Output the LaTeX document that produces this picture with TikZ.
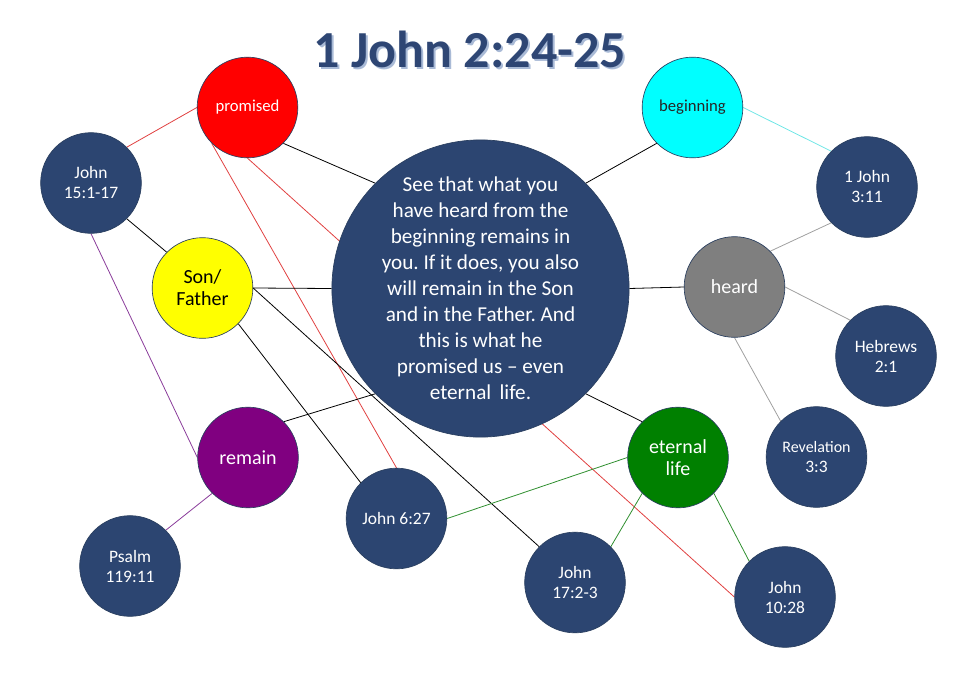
\documentclass[tikz,border=0pt]{standalone}
\usepackage{fontspec}
\setmainfont{Carlito}
\frenchspacing
\definecolor{navy}{HTML}{2C4571}
\definecolor{bord}{HTML}{2A3F5F}
\definecolor{titlec}{HTML}{2E4674}
\definecolor{titleshadow}{HTML}{A9BAD6}
\definecolor{kred}{HTML}{FF0000}
\definecolor{kcyan}{HTML}{00FFFF}
\definecolor{kyellow}{HTML}{FFFF00}
\definecolor{kgray}{HTML}{7F7F7F}
\definecolor{kpurple}{HTML}{800080}
\definecolor{kgreen}{HTML}{008000}
\definecolor{redline}{HTML}{E04040}
\definecolor{cyanline}{HTML}{70E6E6}
\definecolor{grayline}{HTML}{A0A0A0}
\definecolor{purpline}{HTML}{8A3C9A}
\definecolor{greenline}{HTML}{2F8F2F}
\pgfdeclarelayer{bg}
\pgfsetlayers{bg,main}
\begin{document}
\begin{tikzpicture}[x=0.75pt,y=-0.75pt,
  bub/.style={circle, draw=bord, line width=0.5pt, minimum size=75.5pt, inner sep=0pt,
    align=center, fill=navy, text=white, font=\fontsize{13.1}{15}\selectfont},
  keyw/.style={bub, font=\fontsize{12.5}{15}\selectfont},
  bigw/.style={bub, font=\fontsize{15}{16.5}\selectfont},
  link/.style={line width=0.6pt},
]
\useasboundingbox (0,0) rectangle (960,675);
% title
\node[text=titleshadow, font=\fontsize{39}{39}\selectfont\bfseries] (titlesh) at (471.5,51.5) {1 John 2:24-25};
\node[text=titlec, font=\fontsize{39}{39}\selectfont\bfseries] (title) at (469.5,49.5) {1 John 2:24-25};
% centre
\node[circle, draw=bord, line width=0.5pt, fill=navy, text=white, minimum size=218.5pt, inner sep=0pt,
  align=center, font=\fontsize{15.9}{19.5}\selectfont] (c) at (480.5,288.5)
  {See that what you\\ have heard from the\\ beginning remains in\\ you. If it does, you also\\ will remain in the Son\\ and in the Father. And\\ this is what he\\ promised us -- even\\ eternal\ \,life.};
% keyword bubbles
\node[keyw, fill=kred] (prom) at (247.5,107.5) {promised};
\node[keyw, fill=kcyan, text=black!85] (beg) at (692.5,107.5) {beginning};
\node[bigw, fill=kyellow, text=black] (son) at (202.5,288) {Son/\\Father};
\node[bigw, fill=kgray] (heard) at (734.5,287) {heard};
\node[bigw, fill=kpurple] (rem) at (248,457.5) {remain};
\node[bigw, fill=kgreen] (eter) at (678,457.5) {eternal\\life};
% references
\node[bub] (j15) at (91,183) {John\\15:1-17};
\node[bub] (j311) at (867,187) {1 John\\3:11};
\node[bub] (heb) at (886,356) {Hebrews\\2:1};
\node[bub] (rev) at (816.5,457) {\fontsize{12}{15}\selectfont Revelation\\3:3};
\node[bub] (j627) at (396.5,518.5) {John 6:27};
\node[bub] (ps) at (130,566) {Psalm\\119:11};
\node[bub] (j17) at (575,582.5) {John\\17:2-3};
\node[bub] (j1028) at (785,597) {John\\10:28};
% connectors
\begin{pgfonlayer}{bg}
\draw[link] (prom.south east) -- (c.north west);
\draw[link, redline] (prom.west) -- (j15.north east);
\draw[link, redline] (prom.south west) -- (j627.north);
\draw[link, redline] (prom.south) -- (j1028.west);
\draw[link] (beg.south west) -- (c.north east);
\draw[link, cyanline] (beg.east) -- (j311.north west);
\draw[link] (heard.west) -- (c.east);
\draw[link, grayline] (heard.north east) -- (j311.south west);
\draw[link, grayline] (heard.east) -- (heb.north west);
\draw[link, grayline] (heard.south) -- (rev.north west);
\draw[link] (son.east) -- (c.west);
\draw[link] (j15.south east) -- (son.north west);
\draw[link] (son.south east) -- (j627.north west);
\draw[link] (son.east) -- (j17.north west);
\draw[link] (rem.north east) -- (c.south west);
\draw[link, purpline] (j15.south) -- (rem.west);
\draw[link, purpline] (rem.south west) -- (ps.north east);
\draw[link] (eter.north west) -- (c.south east);
\draw[link, greenline] (eter.west) -- (j627.east);
\draw[link, greenline] (eter.south west) -- (j17.north east);
\draw[link, greenline] (eter.south east) -- (j1028.north west);
\end{pgfonlayer}
\end{tikzpicture}
\end{document}
